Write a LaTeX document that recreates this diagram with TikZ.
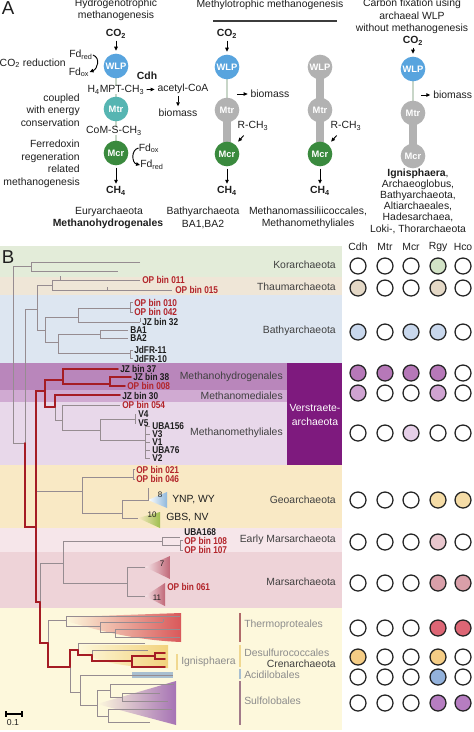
\documentclass[tikz,border=0pt]{standalone}
\usepackage{fontspec}
\setmainfont{Liberation Sans}
\newfontfamily\leaffont[FakeStretch=0.84]{Liberation Sans}
\usetikzlibrary{%
	calc,%
	arrows.meta,%
	positioning,%
	backgrounds,%
}
\definecolor{ctext}{RGB}{30, 30, 30}
\definecolor{cwlp}{RGB}{88, 164, 222}
\definecolor{cmtr}{RGB}{86, 181, 178}
\definecolor{cmcr}{RGB}{58, 138, 62}
\definecolor{cgrayenz}{RGB}{178, 178, 178}
\definecolor{clinklight}{RGB}{200, 214, 200}
\definecolor{ctitleline}{RGB}{60, 60, 60}
\definecolor{cbranch}{RGB}{150, 140, 145}
\definecolor{cred}{RGB}{165, 28, 36}
\definecolor{cleafred}{RGB}{178, 36, 42}
\definecolor{cbandkor}{RGB}{227, 236, 217}
\definecolor{cbandthaum}{RGB}{239, 230, 215}
\definecolor{cbandbathy}{RGB}{221, 230, 241}
\definecolor{cbandmh}{RGB}{185, 134, 187}
\definecolor{cbandmm}{RGB}{208, 170, 210}
\definecolor{cbandmeth}{RGB}{232, 216, 234}
\definecolor{cbandgeo}{RGB}{249, 233, 197}
\definecolor{cbandemars}{RGB}{246, 230, 234}
\definecolor{cbandmars}{RGB}{238, 211, 216}
\definecolor{cbandcren}{RGB}{253, 248, 220}
\definecolor{cverst}{RGB}{126, 26, 126}
\definecolor{ccrengray}{RGB}{140, 140, 140}
\definecolor{ctraitline}{RGB}{35, 35, 35}
\definecolor{ctkor}{RGB}{210, 227, 198}
\definecolor{ctthaum}{RGB}{228, 216, 198}
\definecolor{ctbathy}{RGB}{200, 215, 236}
\definecolor{ctmh}{RGB}{182, 120, 184}
\definecolor{ctmm}{RGB}{207, 163, 209}
\definecolor{ctmeth}{RGB}{230, 207, 232}
\definecolor{ctgeo}{RGB}{245, 220, 166}
\definecolor{ctemars}{RGB}{232, 198, 205}
\definecolor{ctmars}{RGB}{217, 159, 169}
\definecolor{ctthermo}{RGB}{221, 102, 117}
\definecolor{ctdesulf}{RGB}{245, 205, 133}
\definecolor{ctacid}{RGB}{147, 178, 220}
\definecolor{ctsulfo}{RGB}{182, 125, 193}
\definecolor{cwedgethermo}{RGB}{217, 88, 90}
\definecolor{cwedgedesulf}{RGB}{242, 210, 124}
\definecolor{cwedgesulfo}{RGB}{166, 115, 181}
\definecolor{cwedgemars}{RGB}{192, 103, 119}
\definecolor{cwedgewy}{RGB}{143, 184, 220}
\definecolor{cwedgegbs}{RGB}{159, 191, 79}
\definecolor{cacid}{RGB}{169, 191, 208}
\definecolor{cbarthermo}{RGB}{176, 106, 106}
\definecolor{cbardesulf}{RGB}{240, 216, 144}
\definecolor{cbarsulfo}{RGB}{162, 122, 138}
\newcommand{\basefont}{\fontsize{7.8}{9.4}\selectfont}
\newcommand{\leafsize}{\leaffont\fontsize{7.4}{7.4}\selectfont\bfseries}
\newcommand{\traitrow}[7]{%
	\node[trait, fill=#3] (#1cdh) at (358,#2) {};%
	\node[trait, fill=#4] (#1mtr) at (385,#2) {};%
	\node[trait, fill=#5] (#1mcr) at (411,#2) {};%
	\node[trait, fill=#6] (#1rgy) at (438,#2) {};%
	\node[trait, fill=#7] (#1hco) at (463,#2) {};%
}
\tikzset{
	>={Triangle[length=3pt,width=2.6pt]},%
	nodes={align=center},%
	enzyme/.style={%
			circle,%
			minimum size=18.5pt,%
			inner sep=0pt,%
			text=white,%
			font=\fontsize{7}{7}\selectfont\bfseries},%
	enzblue/.style={enzyme, fill=cwlp},%
	enzteal/.style={enzyme, fill=cmtr},%
	enzgreen/.style={enzyme, fill=cmcr},%
	enzgray/.style={enzyme, fill=cgrayenz},%
	mol/.style={font=\basefont\bfseries},%
	reaction/.style={->, line width=0.7pt, shorten <=1.5pt, shorten >=2pt},%
	thinlink/.style={draw=clinklight, line width=1.1pt},%
	thicklink/.style={draw=cgrayenz, line width=6pt},%
	panelletter/.style={font=\fontsize{14}{14}\selectfont},%
	branch/.style={draw=cbranch, line width=0.55pt},%
	redbranch/.style={draw=cred, line width=1.2pt, line cap=round},%
	leafname/.style={anchor=west, font=\leafsize},%
	redleaf/.style={leafname, text=cleafred},%
	bandtext/.style={anchor=east, text=ctext!85},%
	crentext/.style={anchor=west, text=ccrengray},%
	cladesize/.style={font=\fontsize{6}{6}\selectfont},%
	trait/.style={%
			circle,%
			draw=ctraitline,%
			line width=0.95pt,%
			minimum size=12pt,%
			inner sep=0pt},%
}

\begin{document}
\begin{tikzpicture}[x=0.75pt, y=-0.75pt, nodes={inner sep=0pt, font=\basefont, text=ctext}]%
	\useasboundingbox (0,0) rectangle (474,732);

	\node[panelletter] (letA) at (8,8) {A};
	\node (titleHyd) at (116,10) {Hydrogenotrophic\\methanogenesis};
	\node (titleMet) at (270,5) {Methylotrophic methanogenesis};
	\coordinate (metL) at (213,21);
	\coordinate (metR) at (337,21);
	\draw[line width=1.1pt, ctitleline] (metL) -- (metR);
	\node (titleCarb) at (412,16.5) {Carbon fixation using\\archaeal WLP\\without methanogenesis};

	\node[mol] (co2A) at (116,34) {CO\textsubscript{2}};
	\node[enzblue] (wlpA) at (116,66) {WLP};
	\node[enzteal] (mtrA) at (116,109) {Mtr};
	\node[enzgreen] (mcrA) at (116,153) {Mcr};
	\node[mol] (ch4A) at (116,191) {CH\textsubscript{4}};
	\begin{scope}[on background layer]
		\draw[thinlink] (wlpA.center) -- (mtrA.center);
		\draw[thinlink] (mtrA.center) -- (mcrA.center);
	\end{scope}
	\node[fill=white] (h4mpt) at (116,90) {H\textsubscript{4}MPT-CH\textsubscript{3}};
	\node[fill=white] (comsch) at (114,131) {CoM-S-CH\textsubscript{3}};
	\draw[reaction] (co2A) -- (wlpA);
	\draw[reaction] (mcrA) -- (ch4A);

	\node[anchor=east] (co2red) at (66,63) {CO\textsubscript{2} reduction};
	\node (fdredA) at (81,55) {Fd\textsubscript{red}};
	\node (fdoxA) at (79,72) {Fd\textsubscript{ox}};
	\draw[->, line width=0.7pt] (fdredA.east) .. controls +(8,3) and +(8,-3) .. (fdoxA.east);
	\node[anchor=east, align=right] (coupled) at (80,110) {coupled\\with energy\\conservation};
	\node[anchor=east, align=right] (ferred) at (80,164) {Ferredoxin\\regeneration\\related\\methanogenesis};
	\node[mol] (cdh) at (147,76) {Cdh};
	\node (acetyl) at (183,89) {acetyl-CoA};
	\draw[reaction] (h4mpt) -- (acetyl);
	\node (biomassA) at (178,113) {biomass};
	\draw[reaction] (acetyl.south -| biomassA) -- (biomassA);
	\node (fdoxB) at (149,148) {Fd\textsubscript{ox}};
	\node (fdredB) at (152,165) {Fd\textsubscript{red}};
	\draw[->, line width=0.7pt] (fdoxB.west) .. controls +(-8,2) and +(-8,-2) .. (fdredB.west);
	\node (euryA) at (109,212) {Euryarchaeota};
	\node[mol] (mhA) at (108,224) {Methanohydrogenales};

	\node[mol] (co2B) at (227,34) {CO\textsubscript{2}};
	\node[enzblue] (wlpB) at (227,67) {WLP};
	\node[enzgray] (mtrB) at (227,110) {Mtr};
	\node[enzgreen] (mcrB) at (227,154) {Mcr};
	\node[mol] (ch4B) at (227,191) {CH\textsubscript{4}};
	\begin{scope}[on background layer]
		\draw[thinlink] (wlpB.center) -- (mtrB.center);
		\draw[thicklink] (mtrB.center) -- (mcrB.center);
	\end{scope}
	\draw[reaction] (co2B) -- (wlpB);
	\draw[reaction] (mcrB) -- (ch4B);
	\coordinate (bioBtail) at (237,94);
	\node[anchor=west] (biomassB) [right=10pt of bioBtail] {biomass};
	\draw[reaction, shorten <=0pt] (bioBtail) -- (biomassB);
	\node (rch3B) at (253,126) {R-CH\textsubscript{3}};
	\coordinate (rch3Btail) at (245,134);
	\draw[reaction, shorten >=3pt] (rch3Btail) -- (mcrB);
	\node (bathyA) at (203,218) {Bathyarchaeota\\BA1,BA2};

	\node[enzgray] (wlpC) at (320,67) {WLP};
	\node[enzgray] (mtrC) at (320,110) {Mtr};
	\node[enzgreen] (mcrC) at (320,154) {Mcr};
	\node[mol] (ch4C) at (320,191) {CH\textsubscript{4}};
	\begin{scope}[on background layer]
		\draw[thicklink] (wlpC.center) -- (mtrC.center);
		\draw[thicklink] (mtrC.center) -- (mcrC.center);
	\end{scope}
	\draw[reaction] (mcrC) -- (ch4C);
	\node (rch3C) at (346,126) {R-CH\textsubscript{3}};
	\coordinate (rch3Ctail) at (338,134);
	\draw[reaction, shorten >=3pt] (rch3Ctail) -- (mcrC);
	\node (mmA) at (308,218) {Methanomassiliicoccales,\\Methanomethyliales};

	\node[mol] (co2D) at (413,41) {CO\textsubscript{2}};
	\node[enzblue] (wlpD) at (413,69) {WLP};
	\node[enzgray] (mtrD) at (413,113) {Mtr};
	\node[enzgray] (mcrD) at (413,156) {Mcr};
	\begin{scope}[on background layer]
		\draw[thinlink] (wlpD.center) -- (mtrD.center);
		\draw[thicklink] (mtrD.center) -- (mcrD.center);
	\end{scope}
	\draw[reaction] (co2D) -- (wlpD);
	\coordinate (bioDtail) at (421,95);
	\node[anchor=west] (biomassD) [right=9pt of bioDtail] {biomass};
	\draw[reaction, shorten <=0pt] (bioDtail) -- (biomassD);
	\node[font=\fontsize{7.8}{8.4}\selectfont] (wlpTaxa) at (418,201) {\textbf{Ignisphaera},\\Archaeoglobus,\\Bathyarchaeota,\\Altiarchaeales,\\Hadesarchaea,\\Loki-, Thorarchaeota};

	\fill[cbandkor] (0,246) rectangle (342,277);
	\fill[cbandthaum] (0,277) rectangle (342,295);
	\fill[cbandbathy] (0,295) rectangle (342,363);
	\fill[cbandmh] (0,363) rectangle (342,390);
	\fill[cbandmm] (0,390) rectangle (342,402);
	\fill[cbandmeth] (0,402) rectangle (342,465);
	\fill[cbandgeo] (0,465) rectangle (342,528);
	\fill[cbandemars] (0,528) rectangle (342,552);
	\fill[cbandmars] (0,552) rectangle (342,608);
	\fill[cbandcren] (0,608) rectangle (342,730);
	\fill[cverst] (287,363) rectangle (342,465);

	\node[panelletter] (letB) at (8,257) {B};
	\node[bandtext] (lblKor) at (336,265) {Korarchaeota};
	\node[bandtext] (lblThaum) at (336,287) {Thaumarchaeota};
	\node[bandtext] (lblBathy) at (336,331) {Bathyarchaeota};
	\node[bandtext] (lblMh) at (283,377) {Methanohydrogenales};
	\node[bandtext] (lblMm) at (283,396) {Methanomediales};
	\node[bandtext] (lblMeth) at (283,433) {Methanomethyliales};
	\node[text=white, font=\fontsize{7.8}{10.5}\selectfont] (lblVerst) at (315,415) {Verstraete-\\archaeota};
	\node[bandtext] (lblGeo) at (336,500) {Geoarchaeota};
	\node[bandtext] (lblEmars) at (336,540) {Early Marsarchaeota};
	\node[bandtext] (lblMars) at (336,582) {Marsarchaeota};

	\shade[left color=white, right color=cwedgewy] (148,500) -- (167,492) -- (167,508) -- cycle;
	\shade[left color=cbandgeo, right color=cwedgegbs] (138,518) -- (160,512) -- (160,528) -- cycle;
	\shade[left color=cbandmars!60, right color=cwedgemars] (145,567) -- (170,556) -- (170,579) -- cycle;
	\shade[left color=cbandmars!60, right color=cwedgemars] (145,596) -- (165,583) -- (165,606) -- cycle;
	\shade[left color=cbandcren, right color=cwedgethermo] (66,617) -- (181,613) -- (181,642) .. controls (130,640) and (90,628) .. (66,621) -- cycle;
	\shade[left color=cbandcren, right color=cwedgedesulf] (77,645) -- (168,645) -- (168,668) .. controls (120,668) and (95,660) .. (77,651) -- cycle;
	\shade[left color=cbandcren, right color=cwedgesulfo] (97,704) -- (176,681) -- (176,725) -- cycle;
	\fill[cacid] (132,672) rectangle (173,678);

	\draw[branch] (140,262) -| (31,271) -- (118,271);
	\draw[branch] (31,266) -| (13,443) -- (25,443);
	\draw[branch] (25,443) |- (37,309);
	\draw[branch] (52,285) -| (37,330) -- (45,330);
	\draw[branch] (140,280) -| (52,290) -- (172,290);
	\draw[branch] (60,276) -- (60,280) (107,287) -- (107,290) (140,318) -- (140,322);
	\draw[branch] (78,317) -| (45,342) -- (58,342);
	\draw[branch] (130,308) -| (78,322) -- (140,322);
	\draw[branch] (133,302.5) -| (130,312) -- (133,312);
	\draw[branch] (100,334) -| (58,353) -- (130,353);
	\draw[branch] (128,330) -| (100,338) -- (128,338);
	\draw[branch] (133,350) -| (130,358) -- (133,358);
	\draw[branch] (55,407) |- (62,420);
	\draw[branch] (120,405) -| (62,430) -- (100,430);
	\draw[branch] (135,419) -| (100,440) -- (145,440);
	\draw[branch] (136,414.5) -| (135,423) -- (136,423);
	\draw[branch] (150,426) -| (145,458.5) -- (150,458.5);
	\draw[branch] (145,434.5) -- (150,434.5) (145,442.5) -- (150,442.5) (145,450.5) -- (150,450.5);
	\draw[branch] (36,491) -- (82,491);
	\draw[branch] (133,477) -| (82,513) -- (122,513);
	\draw[branch] (135,469.5) -| (133,479) -- (135,479);
	\draw[branch] (148,488) -- (148,500) -| (122,518) -- (138,518);
	\draw[branch] (63,563) -| (40,602);
	\draw[branch] (162,541) -| (63,583) -- (127,583);
	\draw[branch] (180,537) -| (162,545) -- (180,545);
	\draw[branch] (183,540.5) -| (180,550) -- (183,550);
	\draw[branch] (145,567) -| (127,596) -- (145,596);
	\draw[branch] (66,620) -| (48,643);
	\draw[branch] (180,616) -| (66,626) -- (100,626);
	\draw[branch] (163,622) -| (100,632) -- (115,632);
	\draw[branch] (180,629) -| (115,637) -- (180,637);
	\draw[branch] (163,619) -- (163,622);
	\draw[branch] (70,667) |- (80,692);
	\draw[branch] (145,643) -| (78,650);
	\draw[branch] (148,650) -| (92,655);
	\draw[branch] (133,675) -| (80,705) -- (97,705);
	\draw[branch] (132,675) -- (173,675);
	\draw[branch] (110,690) -| (97,716) -- (108,716);
	\draw[branch] (174,684) -| (110,697) -- (122,697);
	\draw[branch] (160,693) -| (122,701) -- (168,701);
	\draw[branch] (172,709) -| (108,722) -- (150,722);

	\draw[redbranch] (25,443) -- (25,527) -- (36,527);
	\draw[redbranch] (45,391) -| (36,602) -- (40,602);
	\draw[redbranch] (63,380) -| (45,407) -- (55,407);
	\draw[redbranch] (118,369) -| (63,384) -- (110,384);
	\draw[redbranch] (131,377) -| (110,386) -- (125,386);
	\draw[redbranch] (120,395) -| (55,407);
	\draw[redbranch] (40,602) -- (40,643) -- (48,643);
	\draw[redbranch] (48,643) -- (48,667) -- (70,667);
	\draw[redbranch] (78,650) -| (70,667);
	\draw[redbranch] (78,650) |- (92,655);
	\draw[redbranch] (92,655) |- (132,661);
	\draw[redbranch] (155,656) -| (132,667) -- (165,667);
	\draw[redbranch] (165,653) -| (155,659) -- (165,659);

	\node[redleaf] (opbin011) at (142,280) {OP bin 011};
	\node[redleaf] (opbin015) at (175,290) {OP bin 015};
	\node[redleaf] (opbin010) at (134,302.5) {OP bin 010};
	\node[redleaf] (opbin042) at (134,312) {OP bin 042};
	\node[leafname] (jzbin32) at (142,322) {JZ bin 32};
	\node[leafname] (ba1) at (130,330) {BA1};
	\node[leafname] (ba2) at (130,338) {BA2};
	\node[leafname] (jdfr11) at (134,350) {JdFR-11};
	\node[leafname] (jdfr10) at (134,359) {JdFR-10};
	\node[leafname] (jzbin37) at (120,369) {JZ bin 37};
	\node[leafname] (jzbin38) at (133,377) {JZ bin 38};
	\node[redleaf] (opbin008) at (127,386) {OP bin 008};
	\node[leafname] (jzbin30) at (122,396) {JZ bin 30};
	\node[redleaf] (opbin054) at (122,405) {OP bin 054};
	\node[leafname] (v4) at (138,414.5) {V4};
	\node[leafname] (v5) at (138,423) {V5};
	\node[leafname] (uba156) at (152,426) {UBA156};
	\node[leafname] (v3) at (152,434.5) {V3};
	\node[leafname] (v1) at (152,442.5) {V1};
	\node[leafname] (uba76) at (152,450.5) {UBA76};
	\node[leafname] (v2) at (152,458.5) {V2};
	\node[redleaf] (opbin021) at (136,469.5) {OP bin 021};
	\node[redleaf] (opbin046) at (136,479) {OP bin 046};
	\node[cladesize] (nwy) at (160,495) {8};
	\node[anchor=west] (ynp) at (172,500) {YNP, WY};
	\node[cladesize] (ngbs) at (152,515) {10};
	\node[anchor=west] (gbs) at (166,518) {GBS, NV};
	\node[leafname] (uba168) at (184,532.5) {UBA168};
	\node[redleaf] (opbin108) at (184,540.5) {OP bin 108};
	\node[redleaf] (opbin107) at (184,550) {OP bin 107};
	\node[cladesize] (nmars7) at (162,564) {7};
	\node[cladesize] (nmars11) at (157,598) {11};
	\node[redleaf] (opbin061) at (167,587) {OP bin 061};

	\draw[line width=1pt, cbardesulf] (177,654) -- (177,670);
	\node[crentext] (lblIgn) at (181,662) {Ignisphaera};
	\draw[line width=1pt, cbarthermo] (240,613) -- (240,642);
	\draw[line width=1pt, cbardesulf] (240,645) -- (240,667);
	\draw[line width=1pt, cacid] (240,669) -- (240,679);
	\draw[line width=1pt, cbarsulfo] (240,681) -- (240,725);
	\node[crentext] (lblThermo) at (244,625) {Thermoproteales};
	\node[crentext] (lblDesulf) at (244,653) {Desulfurococcales};
	\node[bandtext] (lblCren) at (336,664) {Crenarchaeota};
	\node[crentext] (lblAcid) at (244,675) {Acidilobales};
	\node[crentext] (lblSulfo) at (244,701) {Sulfolobales};

	\coordinate (scaleL) at (6,714);
	\coordinate (scaleR) at (22,714);
	\draw[line width=0.8pt] ($(scaleL)+(0,-3)$) -- ($(scaleL)+(0,3)$) (scaleL) -- (scaleR) ($(scaleR)+(0,-3)$) -- ($(scaleR)+(0,3)$);
	\node[font=\fontsize{6.5}{6.5}\selectfont] (scaleLbl) at (13,723) {0.1};

	\node[anchor=center] (hcdh) at (358,247) {Cdh};
	\node (hmtr) at (385,247) {Mtr};
	\node (hmcr) at (411,247) {Mcr};
	\node (hrgy) at (438,247) {Rgy};
	\node (hhco) at (463,247) {Hco};
	\traitrow{kor}{266}{white}{white}{white}{ctkor}{white}
	\traitrow{thaum}{288}{ctthaum}{white}{white}{ctthaum}{white}
	\traitrow{bathy}{332}{ctbathy}{white}{ctbathy}{ctbathy}{white}
	\traitrow{mh}{373}{ctmh}{ctmh}{ctmh}{ctmh}{white}
	\traitrow{mm}{393}{ctmm}{white}{white}{ctmm}{white}
	\traitrow{meth}{433}{white}{white}{ctmeth}{white}{white}
	\traitrow{geo}{500}{white}{white}{white}{ctgeo}{ctgeo}
	\traitrow{emars}{542}{white}{white}{white}{ctemars}{white}
	\traitrow{mars}{583}{white}{white}{white}{ctmars}{ctmars}
	\traitrow{thermo}{628}{white}{white}{white}{ctthermo}{ctthermo}
	\traitrow{desulf}{657}{ctdesulf}{white}{white}{ctdesulf}{white}
	\traitrow{acid}{677}{white}{white}{white}{ctacid}{white}
	\traitrow{sulfo}{703}{white}{white}{white}{ctsulfo}{ctsulfo}
\end{tikzpicture}
\end{document}
